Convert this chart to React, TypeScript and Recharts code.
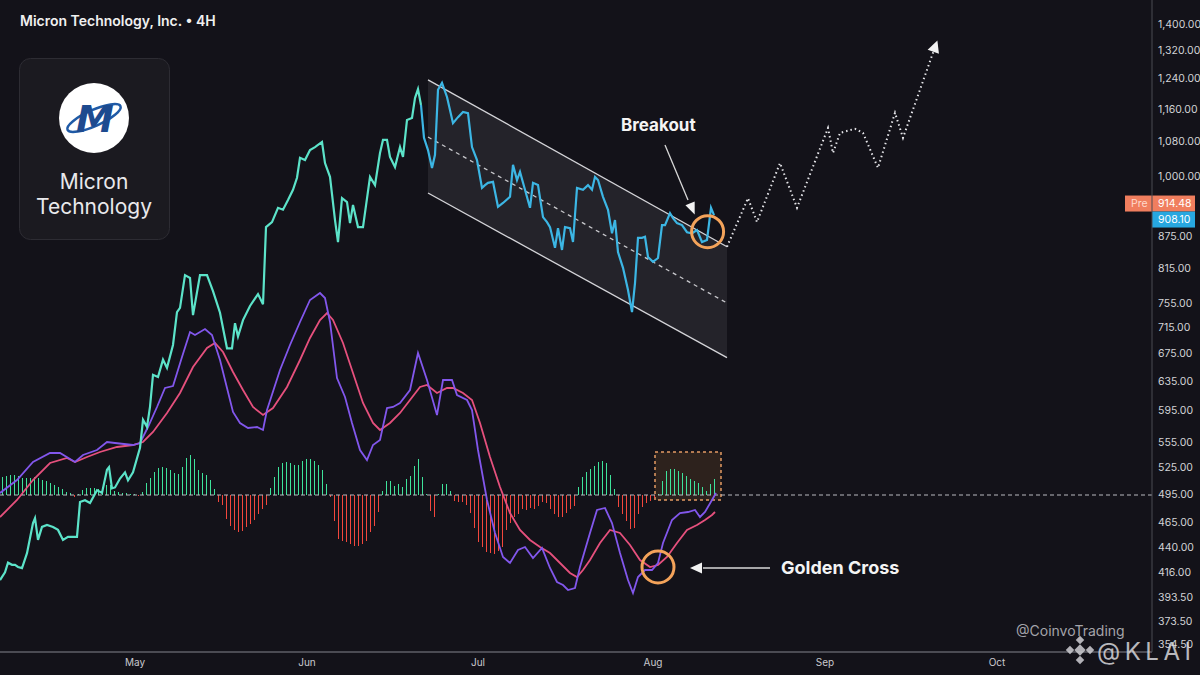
import React from 'react'
import {
  ComposedChart, Line, Bar, Area, Cell, XAxis, YAxis,
  ReferenceLine, ReferenceDot, ReferenceArea,
} from 'recharts'

const W = 1200
const H = 675
const BG = '#131219'
const FONT = 'Inter, "Noto Sans", sans-serif'

// x = bar index (4H bars), price axis is logarithmic
const MONTHS = ['May', 'Jun', 'Jul', 'Aug', 'Sep', 'Oct']
const MONTH_T = [33.75, 76.75, 119.5, 163.25, 206.25, 249.25]
const PRICE_TICKS = [1400, 1320, 1240, 1160, 1080, 1000, 875, 815, 755, 715, 675, 635, 595, 555, 525, 495, 465, 440, 416, 393.5, 373.5, 354.5]

// price before the channel (teal)
const TEAL: [number, number][] = [
  [0, 409], [1.25, 416], [2, 425], [3, 423], [3.75, 423], [4.5, 421], [5.5, 420], [6.75, 434],
  [8.25, 464], [8.75, 469], [9.5, 447], [10.5, 460], [11.75, 462], [13.25, 460], [14.5, 457],
  [15.75, 447], [17, 450], [19.25, 450], [20, 486], [21.25, 488], [22.5, 485], [24.25, 499],
  [25.5, 496], [26.75, 522], [27.25, 525], [28, 501], [28.75, 502], [30, 512], [31.25, 519],
  [32, 510], [33.25, 519], [35, 548], [35.75, 583], [36.75, 574], [37.5, 600], [38.25, 644],
  [39.5, 641], [40.75, 666], [41.75, 654], [43.25, 688], [44.25, 740], [45, 747], [46.25, 803],
  [47.5, 798], [48.25, 735], [50, 803], [51.75, 803], [53.25, 775], [55, 739], [56.75, 683],
  [58, 683], [58.75, 722], [59.5, 701], [60.75, 727], [62.5, 750], [64.5, 770], [65.75, 753],
  [66.5, 893], [68, 903], [69.5, 932], [70.75, 928], [72, 948], [73.25, 970], [74.25, 996],
  [75, 1041], [76.25, 1036], [77.5, 1059], [78.75, 1066], [79.5, 1071], [80.5, 1078], [81.25, 1029],
  [82.5, 998], [83.75, 907], [84.5, 864], [85.5, 952], [86.75, 944], [87.5, 901], [88.25, 938],
  [89.5, 893], [90.75, 893], [92.5, 998], [93.75, 980], [95, 1052], [95.75, 1083], [96.75, 1083],
  [97.5, 1043], [98.75, 1020], [100, 1066], [100.75, 1043], [101.75, 1132], [103, 1137],
  [103.75, 1188], [104.5, 1212], [105.25, 1170],
]

// price inside the channel (blue)
const BLUE: [number, number][] = [
  [105.25, 1170], [106, 1088], [107, 1059], [108, 1018], [108.75, 1048], [109.5, 1210], [110.5, 1229],
  [111.75, 1191], [113.25, 1124], [114.5, 1139], [115.75, 1152], [117, 1149], [118, 1066],
  [119.25, 1036], [120.5, 974], [121.25, 980], [122, 985], [123.25, 987], [124.5, 934], [125.75, 942],
  [127.5, 955], [128.25, 1025], [129.25, 991], [130, 1009], [131.25, 970], [132.5, 932], [133.25, 985],
  [134.5, 980], [135.75, 913], [136.75, 903], [137.5, 893], [138.75, 853], [139.5, 891], [140.5, 849],
  [141.25, 893], [142.5, 891], [143.25, 864], [144.25, 974], [145.75, 970], [147, 980], [148, 970],
  [148.75, 998], [149.5, 991], [150.75, 955], [152, 928], [153, 881], [153.75, 907], [154.5, 845],
  [155.75, 816], [157, 777], [158, 740], [158.75, 789], [159.5, 872], [160.5, 872], [161.25, 874],
  [162, 836], [163.25, 827], [164.5, 834], [165.5, 897], [166.25, 897], [167.5, 921], [168.25, 911],
  [169.25, 901], [170.5, 897], [171.75, 883], [173, 881], [174.25, 887], [175.5, 864], [176.75, 868],
  [177.75, 932], [178.5, 917],
]

// projected path (dotted)
const PROJ: [number, number][] = [
  [181.75, 855], [187, 952], [189.25, 903], [195, 1029], [199.25, 932], [207, 1112], [208.25, 1052],
  [210, 1100], [213.75, 1110], [215.75, 1100], [219.5, 1018], [223.75, 1150], [225.75, 1088], [233.75, 1330],
]

// descending channel: [t, upper, middle, lower]
const CHANNEL: [number, number, number, number][] = [
  [107, 1237, 1090, 963],
  [181.75, 855, 755, 669],
]

// MACD line and signal line
const MACD: [number, number][] = [
  [0, 0.2], [4.25, 1.5], [8.25, 3.3], [12.5, 4.2], [15, 4.2], [18.75, 3.3], [20.75, 4.0], [24.25, 4.5],
  [26.75, 5.3], [28.75, 5.2], [33.25, 5.0], [35, 5.2], [37, 6.8], [39.25, 8.8], [41.25, 10.7],
  [43.25, 10.9], [45.5, 13.8], [47.5, 16.3], [48.75, 16.0], [51.25, 16.6], [53, 16.0], [55, 13.5],
  [56.75, 10.7], [58.25, 8.3], [60, 7.2], [62, 6.7], [64.25, 6.8], [65.75, 6.5], [66.75, 8.5],
  [70, 12.5], [72.5, 15.0], [75, 17.3], [77.5, 19.5], [80, 20.2], [81.25, 19.7], [82.5, 17.3],
  [84.25, 11.7], [86.25, 9.8], [88, 7.2], [90, 4.5], [91.75, 3.5], [93.25, 5.0], [95, 5.5],
  [96.75, 8.7], [98.25, 8.8], [100, 9.2], [102.5, 10.5], [104.5, 14.2], [106.75, 11.5], [109.25, 8.0],
  [110.75, 11.5], [113, 11.5], [114.25, 10.0], [116.75, 9.5], [118, 8.5], [119.5, 4.5], [121.75, -0.5],
  [123.75, -3.8], [125.75, -6.2], [127.5, -6.8], [129.5, -5.5], [131.25, -5.2], [133.25, -6.3],
  [135.5, -5.3], [137.5, -7.3], [139.25, -8.7], [140.75, -9.0], [142, -9.5], [143.75, -9.3],
  [145, -7.2], [147.5, -3.8], [149.25, -1.5], [151.25, -1.3], [153, -2.8], [155, -5.8], [157, -8.5],
  [158.25, -9.8], [159.5, -8.2], [161.25, -7.5], [163, -7.5], [164.5, -6.8], [165.75, -4.8],
  [168, -2.5], [170, -1.8], [172, -1.7], [173.75, -1.5], [175, -2.2], [176.25, -1.7], [178, -0.5], [179, 0.2],
]
const SIGNAL: [number, number][] = [
  [0, -2.2], [4.25, -0.5], [8.25, 1.5], [12.5, 3.2], [16.75, 3.7], [18.75, 3.3], [21.75, 3.8], [25, 4.3],
  [29.25, 4.8], [33.25, 5.0], [35.75, 5.3], [38.25, 6.3], [41.75, 8.2], [45, 10.2], [48.25, 12.8],
  [51.75, 14.7], [53.75, 15.2], [55.75, 14.3], [58.25, 12.3], [60.75, 10.5], [63.25, 8.8], [65.75, 8.0],
  [68.25, 8.7], [71.75, 10.8], [75, 13.5], [77.5, 15.7], [80, 17.5], [81.75, 18.2], [83.25, 17.5],
  [85.75, 15.2], [88.25, 12.2], [90.75, 9.2], [93.25, 7.2], [95, 6.5], [97.5, 7.2], [100, 8.2],
  [102.5, 9.5], [105, 10.8], [106.75, 11.0], [109.25, 10.2], [111.75, 10.7], [113.25, 10.7],
  [115.75, 10.2], [118, 9.5], [120, 7.2], [122.5, 3.8], [125, 0.8], [127.5, -1.8], [130, -3.5],
  [132.5, -4.5], [135, -5.2], [137.5, -5.8], [140, -6.8], [142.5, -7.8], [144.25, -8.2], [145.75, -7.5],
  [147.5, -6.5], [150, -4.8], [152.5, -3.5], [155, -3.8], [157.5, -5.0], [160, -6.5], [162.5, -7.2],
  [164.5, -7.0], [166.75, -6.2], [169.25, -4.8], [171.75, -3.5], [174.25, -3.0], [176.25, -2.5],
  [178, -2.0], [178.75, -1.7],
]

// histogram, one value per bar starting at bar 0
const HIST = [
  1.8, 1.9, 2.0, 2.0, 1.9, 1.7, 1.7, 1.7, 1.8, 1.7, 1.5, 1.4, 1.2, 1.0, 0.8, 0.6, 0.3,
  0.2, -0.2, 0.1,
  0.5, 0.7, 0.7, 0.7, 0.6, 0.8, 1.0, 1.0,
  0.4, 0.3, 0.2, 0.2, 0.1,
  0.1, -0.1, 0.3,
  1.2, 1.7, 2.3, 2.7, 2.8, 2.7, 2.5, 2.2, 2.1, 2.8, 3.7, 4.0, 3.6, 2.5, 2.2, 2.0, 1.5, 0.6,
  -0.7, -1.0, -2.4, -3.1, -3.5, -3.7, -3.6, -3.2, -2.9, -2.5, -1.9, -1.4, -1.0,
  0.7, 1.8, 2.8, 3.2, 3.3, 3.2, 3.0, 3.0, 3.4, 3.6, 3.6, 3.4, 3.0, 2.5, 1.1,
  -0.2, -2.6, -4.4, -4.6, -4.7, -4.9, -5.1, -5.1, -4.9, -4.6, -3.7, -3.1, -1.7,
  0.4, 1.4, 1.4, 0.9, 1.1, 0.8, 1.6, 1.9, 2.9, 3.6, 1.8, 0.1,
  -1.6, -2.2,
  0.1,
  1.1, 1.1, 0.4,
  -0.6, -0.7, -0.7, -1.0, -1.8, -3.3, -4.7, -5.2, -5.7, -5.8, -5.9, -5.6, -5.2, -3.5, -2.8, -2.2,
  -1.9, -1.4, -1.5, -1.3, -1.4, -1.1, -0.7, -0.8, -1.4, -1.9, -2.2, -2.2, -1.8, -1.4, -1.1,
  0.8, 1.8, 2.3, 2.6, 2.9, 3.3, 3.4, 3.2, 2.0, 0.6,
  -1.2, -1.9, -2.6, -3.4, -3.3, -1.9, -1.2, -0.8, -0.6, -0.3,
  0.1, 1.4, 2.4, 2.6, 2.6, 2.4, 2.2, 1.9, 1.6, 1.4, 1.2, 0.8, 0.4, 1.1, 1.6,
]

const LAST_PRICE = 908.1
const PRE_PRICE = 914.48

const histRows = HIST.map((h, i) => ({ t: i + 0.5, h }))
const rows = (pts: [number, number][]) => pts.map(([t, v]) => ({ t, v }))
const channelRows = CHANNEL.map(([t, up, mid, low]) => ({ t, up, mid, low, band: [low, up] }))

const fmtPrice = (v: number) =>
  v.toLocaleString('en-US', { minimumFractionDigits: 2, maximumFractionDigits: 2 })

// solid, crisp histogram bars
function HistBar(props: any) {
  const { x, y, width, height, fill } = props
  if (x == null || y == null || !height) return <g />
  const top = height < 0 ? y + height : y
  return (
    <rect x={Math.round(x)} y={top} width={Math.max(1, Math.round(width))} height={Math.abs(height)}
      fill={fill} shapeRendering="crispEdges" />
  )
}

function ArrowDot(props: any) {
  const { cx, cy, index } = props
  if (index !== PROJ.length - 1) return <g key={`p${index}`} />
  return (
    <polygon key={`p${index}`} points="7,0 -5,-6 -5,6" fill="#f2f2f2"
      transform={`translate(${cx},${cy}) rotate(-70)`} />
  )
}

function PriceBadges(props: any) {
  const vb = props.viewBox || {}
  const x = vb.x + vb.width
  const y = vb.y
  return (
    <g fontFamily={FONT} fontSize={10.5}>
      <rect x={x - 27} y={y - 24} width={70} height={16} fill="#f07e5e" />
      <text x={x - 21} y={y - 12.5} fill="#ffd9cc">Pre</text>
      <text x={x + 6} y={y - 12.5} fill="#fff">{fmtPrice(PRE_PRICE)}</text>
      <rect x={x} y={y - 8} width={43} height={16} fill="#27a7e0" />
      <text x={x + 6} y={y + 3.5} fill="#fff">{fmtPrice(LAST_PRICE)}</text>
    </g>
  )
}

function Overlay() {
  return (
    <svg width={W} height={H} style={{ position: 'absolute', left: 0, top: 0, pointerEvents: 'none' }}
      fontFamily={FONT}>
      <text x={20} y={26} fill="#f0f0f0" fontSize={14} fontWeight={600}>Micron Technology, Inc. • 4H</text>

      <rect x={19.5} y={58.5} width={150} height={181} rx={11} fill="#1b1a20" stroke="#2d2c33" />
      <circle cx={94} cy={118} r={35} fill="#ffffff" />
      <ellipse cx={94} cy={118} rx={29} ry={8} fill="none" stroke="#1f5aa6" strokeWidth={2.5}
        transform="rotate(-24 94 118)" />
      <text x={95} y={132} textAnchor="middle" fill="#1d4a8f" fontSize={38} fontWeight={900}
        fontStyle="italic" fontFamily="'DejaVu Sans', sans-serif">M</text>
      <text x={94} y={189} textAnchor="middle" fill="#e9e9ec" fontSize={21}>Micron</text>
      <text x={94} y={214} textAnchor="middle" fill="#e9e9ec" fontSize={21}>Technology</text>

      <text x={621} y={131} fill="#f4f4f4" fontSize={17} fontWeight={700}>Breakout</text>
      <line x1={665} y1={145} x2={688} y2={200} stroke="#d8d8d8" strokeWidth={1.3} />
      <polygon points="7,0 -5,-5 -5,5" fill="#f2f2f2" transform="translate(692,208) rotate(67)" />

      <line x1={770} y1={568} x2={703} y2={568} stroke="#d8d8d8" strokeWidth={1.5} />
      <polygon points="-8,0 4,-5.5 4,5.5" fill="#f2f2f2" transform="translate(698,568)" />
      <text x={781} y={574} fill="#f4f4f4" fontSize={18} fontWeight={700}>Golden Cross</text>

      <text x={1016} y={636} fill="#a4a4aa" fontSize={14}>@CoinvoTrading</text>
      <g transform="translate(1080,650)" fill="#cfcfd4" opacity={0.85}>
        <rect x={-4} y={-4} width={8} height={8} transform="rotate(45)" />
        <rect x={-13} y={-3} width={6} height={6} transform="rotate(45 -10 0)" />
        <rect x={7} y={-3} width={6} height={6} transform="rotate(45 10 0)" />
        <rect x={-3} y={-13} width={6} height={6} transform="rotate(45 0 -10)" />
        <rect x={-3} y={7} width={6} height={6} transform="rotate(45 0 10)" />
      </g>
      <text x={1097} y={660} fill="#d6d6da" opacity={0.85} fontSize={24} letterSpacing={4.5}>@KLAI</text>
    </svg>
  )
}

export default function App() {
  return (
    <div style={{ position: 'relative', width: W, height: H, background: BG, overflow: 'hidden' }}>
      <style>{`body{margin:0;background:${BG};}`}</style>
      <ComposedChart width={W} height={H} data={histRows}
        margin={{ top: 0, right: 0, bottom: 0, left: 0 }}>
        <XAxis dataKey="t" type="number" domain={[0, 288]} allowDataOverflow
          ticks={MONTH_T} interval={0} height={23}
          tickFormatter={(v: number) => MONTHS[MONTH_T.indexOf(v)] ?? ''}
          tick={{ fill: '#c9c9ce', fontSize: 10, fontFamily: FONT }}
          tickLine={false} tickSize={0} tickMargin={7}
          axisLine={{ stroke: '#4b4b53', strokeWidth: 2 }} />
        <YAxis yAxisId="price" orientation="right" type="number" scale="log"
          domain={[348.8, 1476]} allowDataOverflow width={48}
          ticks={PRICE_TICKS} interval={0} tickFormatter={fmtPrice}
          tick={{ fill: '#d2d2d6', fontSize: 10.5, fontFamily: FONT }}
          tickLine={false} tickSize={0} tickMargin={6}
          axisLine={{ stroke: '#4b4b53' }} />
        <YAxis yAxisId="macd" hide type="number" domain={[-15.7, 49.5]} allowDataOverflow />

        <ReferenceArea yAxisId="macd" x1={163.75} x2={180.25} y1={-0.5} y2={4.3}
          fill="#33261f" fillOpacity={0.85} stroke="#e39a63" strokeDasharray="3 3" strokeWidth={1.5} />

        <Area data={channelRows} dataKey="band" yAxisId="price" type="linear" activeDot={false}
          fill="#ffffff" fillOpacity={0.075} stroke="none" isAnimationActive={false} />
        <Line data={channelRows} dataKey="up" yAxisId="price" type="linear" stroke="#d4d4d8"
          strokeWidth={1.3} dot={false} activeDot={false} isAnimationActive={false} />
        <Line data={channelRows} dataKey="low" yAxisId="price" type="linear" stroke="#d4d4d8"
          strokeWidth={1.3} dot={false} activeDot={false} isAnimationActive={false} />
        <Line data={channelRows} dataKey="mid" yAxisId="price" type="linear" stroke="#c8c8cc"
          strokeWidth={1.3} strokeDasharray="4 4" dot={false} activeDot={false} isAnimationActive={false} />

        <Bar dataKey="h" yAxisId="macd" barSize={3} shape={HistBar} activeBar={false} isAnimationActive={false}>
          {HIST.map((h, i) => (
            <Cell key={i} fill={h >= 0 ? '#3ee39b' : '#f3473d'} />
          ))}
        </Bar>
        <ReferenceLine yAxisId="macd" y={0} stroke="#b9b9c0" strokeDasharray="4 3" strokeWidth={1} />

        <Line data={rows(SIGNAL)} dataKey="v" yAxisId="macd" type="linear" stroke="#e6507d"
          strokeWidth={1.8} dot={false} activeDot={false} isAnimationActive={false} />
        <Line data={rows(MACD)} dataKey="v" yAxisId="macd" type="linear" stroke="#8257ec"
          strokeWidth={1.8} dot={false} activeDot={false} isAnimationActive={false} />

        <Line data={rows(TEAL)} dataKey="v" yAxisId="price" type="linear" stroke="#5ce3c9"
          strokeWidth={2.2} dot={false} activeDot={false} isAnimationActive={false} />
        <Line data={rows(BLUE)} dataKey="v" yAxisId="price" type="linear" stroke="#3cb6e4"
          strokeWidth={2.2} dot={false} activeDot={false} isAnimationActive={false} />
        <Line data={rows(PROJ)} dataKey="v" yAxisId="price" type="linear" stroke="#e6e6ea"
          strokeWidth={2} strokeDasharray="1.5 3" dot={ArrowDot} activeDot={false} isAnimationActive={false} />

        <ReferenceDot yAxisId="price" x={176.9} y={884} r={16} fill="none"
          stroke="#f4a35a" strokeWidth={3} />
        <ReferenceDot yAxisId="macd" x={164.5} y={-7.2} r={16} fill="none"
          stroke="#f4a35a" strokeWidth={3} />

        <ReferenceLine yAxisId="price" y={LAST_PRICE} stroke="none" label={PriceBadges} />
      </ComposedChart>
      <Overlay />
    </div>
  )
}
